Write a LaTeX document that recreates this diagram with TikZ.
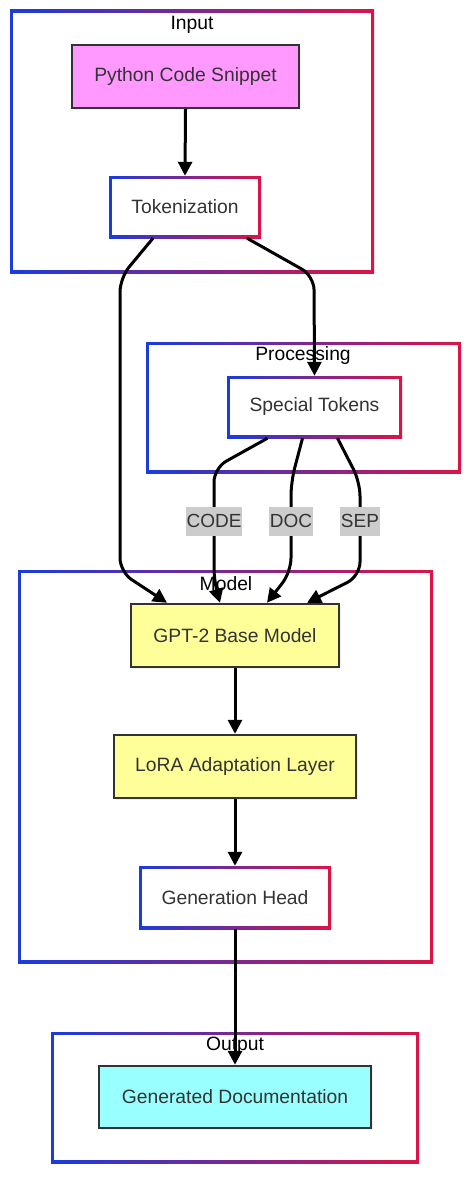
\documentclass[tikz,border=0pt]{standalone}
\usepackage{fontspec}
\setmainfont{Liberation Sans}
\usetikzlibrary{arrows.meta,shadows}
\definecolor{gblue}{HTML}{1A3CDC}
\definecolor{gred}{HTML}{DC1446}
\definecolor{txt}{HTML}{333333}
\definecolor{pinkfill}{HTML}{FF99FF}
\definecolor{yelfill}{HTML}{FFFF99}
\definecolor{cyanfill}{HTML}{99FFFF}
\definecolor{labfill}{HTML}{CCCCCC}
\tikzset{
  gbox/.style={rectangle, inner sep=0pt, fill=white, text=txt,
    font=\fontsize{19.3}{22}\selectfont,
    path picture={
      \shade[left color=gblue,right color=gred]
        (path picture bounding box.south west) rectangle (path picture bounding box.north east);
      \fill[white]
        ([shift={(2.7pt,2.7pt)}]path picture bounding box.south west) rectangle
        ([shift={(-2.7pt,-2.7pt)}]path picture bounding box.north east);
    }},
  fbox/.style={rectangle, inner sep=0pt, draw=txt, line width=2.4pt, text=txt,
    font=\fontsize{19.3}{22}\selectfont,
    drop shadow={opacity=0.12, shadow xshift=2pt, shadow yshift=-2pt}},
  clabel/.style={inner sep=0pt, text=black, font=\fontsize{19.3}{22}\selectfont},
  elab/.style={fill=labfill, inner xsep=1pt, inner ysep=0pt, minimum height=29pt,
    text=txt, font=\fontsize{19}{21}\selectfont},
  conn/.style={draw=black, line width=3pt, rounded corners=14pt,
    -{Triangle[length=14pt,width=14pt]}},
}
\begin{document}
\begin{tikzpicture}[x=1pt,y=-1pt]
\fill[white] (0,0) rectangle (474,1180);
\useasboundingbox (0,0) rectangle (474,1180);

% clusters
\node[gbox, minimum width=364pt, minimum height=263pt] (cin) at (192,141.5) {};
\node[clabel] (lin) at (192,25) {Input};
\node[gbox, minimum width=315pt, minimum height=131pt] (cproc) at (303.5,407.5) {};
\node[clabel] (lproc) at (303,356) {Processing};
\node[gbox, minimum width=415pt, minimum height=393pt] (cmodel) at (225.5,766.5) {};
\node[clabel] (lmodel) at (226,584) {Model};
\node[gbox, minimum width=368pt, minimum height=131pt] (cout) at (235,1097.5) {};
\node[clabel] (lout) at (235,1046) {Output};

% nodes
\node[fbox, fill=pinkfill, minimum width=227pt, minimum height=63pt] (py) at (185.5,76.5) {Python Code Snippet};
\node[gbox, minimum width=152pt, minimum height=62pt] (tok) at (185,207) {Tokenization};
\node[gbox, minimum width=175pt, minimum height=62pt] (spec) at (314.5,407) {Special Tokens};
\node[fbox, fill=yelfill, minimum width=208pt, minimum height=63pt] (gpt) at (235,635.5) {GPT-2 Base Model};
\node[fbox, fill=yelfill, minimum width=242pt, minimum height=63pt] (lora) at (235,766.5) {LoRA Adaptation Layer};
\node[gbox, minimum width=192pt, minimum height=63pt] (gen) at (235,897.5) {Generation Head};
\node[fbox, fill=cyanfill, minimum width=272pt, minimum height=62pt] (doc) at (235,1097) {Generated Documentation};

% connectors
\draw[conn] (py.south) -- (tok.north);
\draw[conn] ([xshift=-32pt]tok.south) -- (120,278) -- (120,572) -- ([xshift=-68pt]gpt.north);
\draw[conn] ([xshift=62pt]tok.south) -- (314,276) -- (spec.north);
\draw[conn] ([xshift=-47pt]spec.south) -- (214,468) -- (214,582) -- ([xshift=-15pt]gpt.north);
\draw[conn] ([xshift=-12pt]spec.south) -- (291,482) -- (291,572) -- ([xshift=32pt]gpt.north);
\draw[conn] ([xshift=23pt]spec.south) -- (360,482) -- (360,576) -- ([xshift=72pt]gpt.north);
\draw[conn] (gpt.south) -- (lora.north);
\draw[conn] (lora.south) -- (gen.north);
\draw[conn] (gen.south) -- (doc.north);

% edge labels
\node[elab] (lcode) at (214,521) {CODE};
\node[elab] (ldoc) at (291,521) {DOC};
\node[elab] (lsep) at (360,521) {SEP};
\end{tikzpicture}
\end{document}
